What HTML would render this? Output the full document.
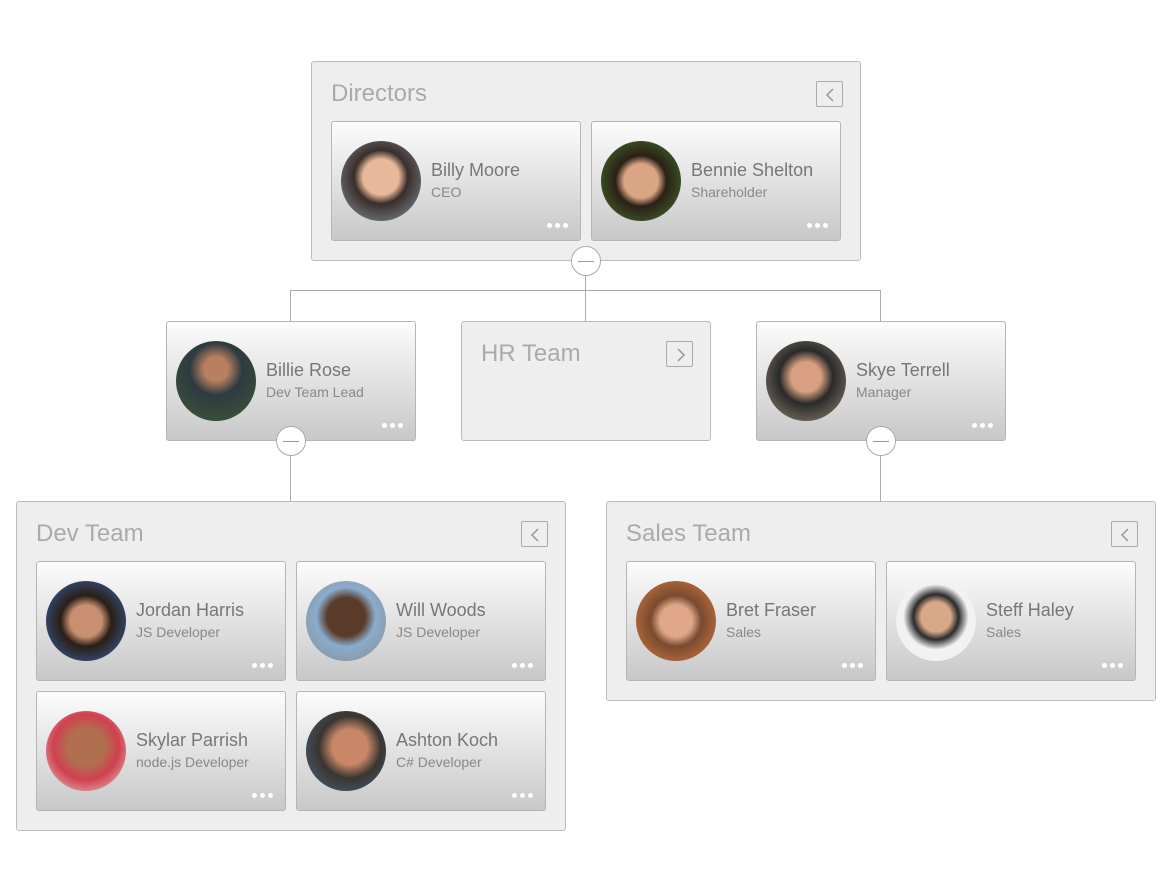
<!DOCTYPE html>
<html><head><meta charset="utf-8"><style>
body{margin:0;width:1174px;height:880px;background:#fff;position:relative;font-family:"Liberation Sans",Arial,sans-serif;overflow:hidden}
.g{position:absolute;background:#eee;border:1px solid #bbb;border-radius:3px;box-sizing:border-box}
.gt{position:absolute;left:19px;top:18px;font-size:24px;color:#aaa}
.btn{position:absolute;width:27px;height:26px;border:1px solid #aaa;border-radius:2px;box-sizing:border-box;background:#eee}
.btn svg{position:absolute;left:0;top:0}
.c{position:absolute;width:250px;height:120px;border:1px solid #b5b5b5;border-radius:3px;box-sizing:border-box;background:linear-gradient(#fcfcfc,#c8c8c8)}
.av{position:absolute;left:9px;top:19px;width:80px;height:80px;border-radius:50%}
.n{position:absolute;left:99px;top:38px;font-size:18px;color:#777}
.t{position:absolute;left:99px;top:62px;font-size:14px;color:#888}
.d{position:absolute;right:12px;bottom:12px;display:flex;gap:3px}
.d i{display:block;width:5px;height:5px;border-radius:50%;background:#fff}
.cb{position:absolute;width:30px;height:30px;border:1px solid #aaa;border-radius:50%;background:#fff;box-sizing:border-box}
.cb:after{content:"";position:absolute;left:6px;right:6px;top:14px;height:1px;background:#999}
.l{position:absolute;background:#aaa}
</style></head><body>
<div class="l" style="left:585px;top:276px;width:1px;height:15px"></div>
<div class="l" style="left:290px;top:290px;width:591px;height:1px"></div>
<div class="l" style="left:290px;top:290px;width:1px;height:31px"></div>
<div class="l" style="left:585px;top:290px;width:1px;height:31px"></div>
<div class="l" style="left:880px;top:290px;width:1px;height:31px"></div>
<div class="l" style="left:290px;top:455px;width:1px;height:46px"></div>
<div class="l" style="left:880px;top:455px;width:1px;height:46px"></div>

<div class="g" style="left:311px;top:61px;width:550px;height:200px"><div class="gt">Directors</div>
<div class="btn" style="left:504px;top:19px"><svg width="27" height="26"><path d="M16 7 L10 13 L16 19" fill="none" stroke="#999" stroke-width="1.5"/></svg></div></div>
<div class="c" style="left:331px;top:121px"><div class="av" style="background:radial-gradient(circle at 50% 45%,#e8b89a 0 30%,#3a2e2a 45%,#8a9aa8)"></div><div class="n">Billy Moore</div><div class="t">CEO</div><div class="d"><i></i><i></i><i></i></div></div>
<div class="c" style="left:591px;top:121px"><div class="av" style="background:radial-gradient(circle at 50% 50%,#d9a582 0 30%,#2a2018 45%,#4a7a2a)"></div><div class="n">Bennie Shelton</div><div class="t">Shareholder</div><div class="d"><i></i><i></i><i></i></div></div>
<div class="cb" style="left:571px;top:246px"></div>

<div class="c" style="left:166px;top:321px"><div class="av" style="background:radial-gradient(circle at 50% 35%,#b88060 0 18%,#2e3a40 40%,#3e5a35)"></div><div class="n">Billie Rose</div><div class="t">Dev Team Lead</div><div class="d"><i></i><i></i><i></i></div></div>
<div class="g" style="left:461px;top:321px;width:250px;height:120px"><div class="gt">HR Team</div>
<div class="btn" style="left:204px;top:19px"><svg width="27" height="26"><path d="M11 7 L17 13 L11 19" fill="none" stroke="#999" stroke-width="1.5"/></svg></div></div>
<div class="c" style="left:756px;top:321px"><div class="av" style="background:radial-gradient(circle at 50% 45%,#d8a080 0 25%,#2a2a2a 45%,#9a8a78)"></div><div class="n">Skye Terrell</div><div class="t">Manager</div><div class="d"><i></i><i></i><i></i></div></div>
<div class="cb" style="left:276px;top:426px"></div>
<div class="cb" style="left:866px;top:426px"></div>

<div class="g" style="left:16px;top:501px;width:550px;height:330px"><div class="gt">Dev Team</div>
<div class="btn" style="left:504px;top:19px"><svg width="27" height="26"><path d="M16 7 L10 13 L16 19" fill="none" stroke="#999" stroke-width="1.5"/></svg></div></div>
<div class="c" style="left:36px;top:561px"><div class="av" style="background:radial-gradient(circle at 50% 50%,#c89070 0 28%,#2a1e18 45%,#3a6ab0)"></div><div class="n">Jordan Harris</div><div class="t">JS Developer</div><div class="d"><i></i><i></i><i></i></div></div>
<div class="c" style="left:296px;top:561px"><div class="av" style="background:radial-gradient(circle at 50% 45%,#5a3a28 0 32%,#8aaccc 50%,#8a8a8a)"></div><div class="n">Will Woods</div><div class="t">JS Developer</div><div class="d"><i></i><i></i><i></i></div></div>
<div class="c" style="left:36px;top:691px"><div class="av" style="background:radial-gradient(circle at 50% 45%,#b07050 0 30%,#d04050 55%,#e8ddd0)"></div><div class="n">Skylar Parrish</div><div class="t">node.js Developer</div><div class="d"><i></i><i></i><i></i></div></div>
<div class="c" style="left:296px;top:691px"><div class="av" style="background:radial-gradient(circle at 55% 45%,#c88868 0 28%,#3a3530 50%,#4a6a8a)"></div><div class="n">Ashton Koch</div><div class="t">C# Developer</div><div class="d"><i></i><i></i><i></i></div></div>

<div class="g" style="left:606px;top:501px;width:550px;height:200px"><div class="gt">Sales Team</div>
<div class="btn" style="left:504px;top:19px"><svg width="27" height="26"><path d="M16 7 L10 13 L16 19" fill="none" stroke="#999" stroke-width="1.5"/></svg></div></div>
<div class="c" style="left:626px;top:561px"><div class="av" style="background:radial-gradient(circle at 50% 50%,#e0a888 0 28%,#7a4a30 45%,#d88040)"></div><div class="n">Bret Fraser</div><div class="t">Sales</div><div class="d"><i></i><i></i><i></i></div></div>
<div class="c" style="left:886px;top:561px"><div class="av" style="background:radial-gradient(circle at 50% 45%,#d8a888 0 25%,#2a2a2a 38%,#f2f2f2 55%)"></div><div class="n">Steff Haley</div><div class="t">Sales</div><div class="d"><i></i><i></i><i></i></div></div>
</body></html>
